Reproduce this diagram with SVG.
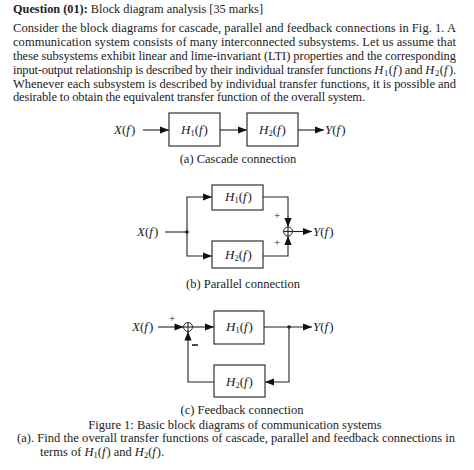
<svg xmlns="http://www.w3.org/2000/svg" width="474" height="470" viewBox="0 0 474 470">
<defs>
<marker id="ah" viewBox="0 0 10 10" refX="10" refY="5" markerWidth="10" markerHeight="9" markerUnits="userSpaceOnUse" orient="auto">
<path d="M0,1 L10,5 L0,9 Z" fill="#111"/>
</marker>
<style>
text{font-family:"Liberation Serif","DejaVu Serif",serif;fill:#222;}
.t{font-size:12.5px;}
.b{font-weight:bold;}
.i{font-style:italic;}
.m{font-size:13px;}
.s{font-size:8.5px;}
.cap{font-size:12.5px;text-anchor:middle;}
.box{fill:#fff;stroke:#333;stroke-width:1.2;}
.ln{fill:none;stroke:#222;stroke-width:1.1;}
.arr{fill:none;stroke:#222;stroke-width:1.1;marker-end:url(#ah);}
</style>
</defs>
<rect width="474" height="470" fill="#fff"/>
<!-- header text -->
<text class="t" x="13" y="13" textLength="250" lengthAdjust="spacingAndGlyphs"><tspan class="b">Question (01):</tspan> Block diagram analysis [35 marks]</text>
<text class="t" x="13" y="32" textLength="443" lengthAdjust="spacing">Consider the block diagrams for cascade, parallel and feedback connections in Fig. 1. A</text>
<text class="t" x="13" y="46" textLength="443" lengthAdjust="spacing">communication system consists of many interconnected subsystems. Let us assume that</text>
<text class="t" x="13" y="60" textLength="443" lengthAdjust="spacing">these subsystems exhibit linear and lime-invariant (LTI) properties and the corresponding</text>
<text class="t" x="13" y="73.5" textLength="443" lengthAdjust="spacing">input-output relationship is described by their individual transfer functions <tspan class="i">H</tspan><tspan class="s" baseline-shift="-1.5" dx="1">1</tspan><tspan dx="0.5">(</tspan><tspan class="i" dx="0.5">f</tspan><tspan dx="1.5">)</tspan> and <tspan class="i">H</tspan><tspan class="s" baseline-shift="-1.5" dx="1">2</tspan><tspan dx="0.5">(</tspan><tspan class="i" dx="0.5">f</tspan><tspan dx="1.5">).</tspan></text>
<text class="t" x="13" y="87.5" textLength="443" lengthAdjust="spacing">Whenever each subsystem is described by individual transfer functions, it is possible and</text>
<text class="t" x="13" y="101" textLength="352" lengthAdjust="spacing">desirable to obtain the equivalent transfer function of the overall system.</text>

<!-- connectors -->
<g id="connectors">
<!-- cascade -->
<line class="arr" x1="143" y1="130" x2="169" y2="130"/>
<line class="arr" x1="220" y1="130" x2="247" y2="130"/>
<line class="arr" x1="298" y1="130" x2="324" y2="130"/>
<!-- parallel -->
<line class="ln" x1="165" y1="232" x2="187" y2="232"/>
<circle cx="187" cy="232" r="1.8" fill="#222"/>
<polyline class="arr" points="187,232 187,197 212,197"/>
<polyline class="arr" points="187,232 187,256 212,256"/>
<polyline class="arr" points="263,197 288,197 288,227"/>
<polyline class="arr" points="263,256 288,256 288,236"/>
<line class="arr" x1="292.5" y1="231.5" x2="312" y2="231.5"/>
<!-- feedback -->
<line class="arr" x1="158" y1="327" x2="183.5" y2="327"/>
<line class="arr" x1="192.5" y1="327" x2="214" y2="327"/>
<line class="arr" x1="264" y1="327" x2="312" y2="327"/>
<circle cx="289" cy="327" r="1.8" fill="#222"/>
<polyline class="arr" points="289,327 289,382 265,382"/>
<polyline class="arr" points="214,382 188,382 188,331.5"/>
</g>

<!-- cascade nodes -->
<g id="casc-x"><text class="m" x="114" y="134"><tspan class="i">X</tspan>(<tspan class="i">f</tspan><tspan dx="1">)</tspan></text></g>
<g id="casc-h1"><rect class="box" x="169" y="113" width="51" height="33"/><text class="m" x="181" y="134"><tspan class="i">H</tspan><tspan class="s" baseline-shift="-2">1</tspan>(<tspan class="i">f</tspan><tspan dx="1">)</tspan></text></g>
<g id="casc-h2"><rect class="box" x="247" y="113" width="51" height="33"/><text class="m" x="259" y="134"><tspan class="i">H</tspan><tspan class="s" baseline-shift="-2">2</tspan>(<tspan class="i">f</tspan><tspan dx="1">)</tspan></text></g>
<g id="casc-y"><text class="m" x="325" y="134"><tspan class="i">Y</tspan>(<tspan class="i">f</tspan><tspan dx="1">)</tspan></text></g>
<text class="cap" x="238" y="163">(a) Cascade connection</text>

<!-- parallel nodes -->
<g id="par-x"><text class="m" x="137" y="236"><tspan class="i">X</tspan>(<tspan class="i">f</tspan><tspan dx="1">)</tspan></text></g>
<g id="par-h1"><rect class="box" x="212" y="185" width="51" height="25"/><text class="m" x="225" y="201"><tspan class="i">H</tspan><tspan class="s" baseline-shift="-2">1</tspan>(<tspan class="i">f</tspan><tspan dx="1">)</tspan></text></g>
<g id="par-h2"><rect class="box" x="212" y="241" width="51" height="27"/><text class="m" x="225" y="259"><tspan class="i">H</tspan><tspan class="s" baseline-shift="-2">2</tspan>(<tspan class="i">f</tspan><tspan dx="1">)</tspan></text></g>
<g id="par-sum"><circle cx="288" cy="231.5" r="4.5" fill="#fff" stroke="#222" stroke-width="1"/><line class="ln" x1="283.5" y1="231.5" x2="292.5" y2="231.5"/><line class="ln" x1="288" y1="227" x2="288" y2="236"/>
<text x="277" y="219" text-anchor="middle" font-size="11">+</text><text x="277" y="246" text-anchor="middle" font-size="11">+</text></g>
<g id="par-y"><text class="m" x="313" y="236"><tspan class="i">Y</tspan>(<tspan class="i">f</tspan><tspan dx="1">)</tspan></text></g>
<text class="cap" x="243" y="288">(b) Parallel connection</text>

<!-- feedback nodes -->
<g id="fb-x"><text class="m" x="132" y="331"><tspan class="i">X</tspan>(<tspan class="i">f</tspan><tspan dx="1">)</tspan></text></g>
<g id="fb-sum"><circle cx="188" cy="327" r="4.5" fill="#fff" stroke="#222" stroke-width="1"/><line class="ln" x1="183.5" y1="327" x2="192.5" y2="327"/><line class="ln" x1="188" y1="322.5" x2="188" y2="331.5"/>
<text x="172" y="322" text-anchor="middle" font-size="11">+</text><line x1="192" y1="345" x2="198" y2="345" stroke="#222" stroke-width="1.6"/></g>
<g id="fb-h1"><rect class="box" x="214" y="311" width="50" height="33"/><text class="m" x="226" y="331"><tspan class="i">H</tspan><tspan class="s" baseline-shift="-2">1</tspan>(<tspan class="i">f</tspan><tspan dx="1">)</tspan></text></g>
<g id="fb-h2"><rect class="box" x="214" y="365" width="51" height="32"/><text class="m" x="226" y="386"><tspan class="i">H</tspan><tspan class="s" baseline-shift="-2">2</tspan>(<tspan class="i">f</tspan><tspan dx="1">)</tspan></text></g>
<g id="fb-y"><text class="m" x="313" y="331"><tspan class="i">Y</tspan>(<tspan class="i">f</tspan><tspan dx="1">)</tspan></text></g>
<text class="cap" x="242" y="414">(c) Feedback connection</text>

<text class="cap" x="235" y="429">Figure 1: Basic block diagrams of communication systems</text>
<text class="t" x="17" y="442" textLength="438" lengthAdjust="spacing">(a). Find the overall transfer functions of cascade, parallel and feedback connections in</text>
<text class="t" x="40" y="456">terms of <tspan class="i">H</tspan><tspan class="s" baseline-shift="-2">1</tspan>(<tspan class="i">f</tspan><tspan dx="1">)</tspan> and <tspan class="i">H</tspan><tspan class="s" baseline-shift="-2">2</tspan>(<tspan class="i">f</tspan><tspan dx="1">).</tspan></text>
</svg>
